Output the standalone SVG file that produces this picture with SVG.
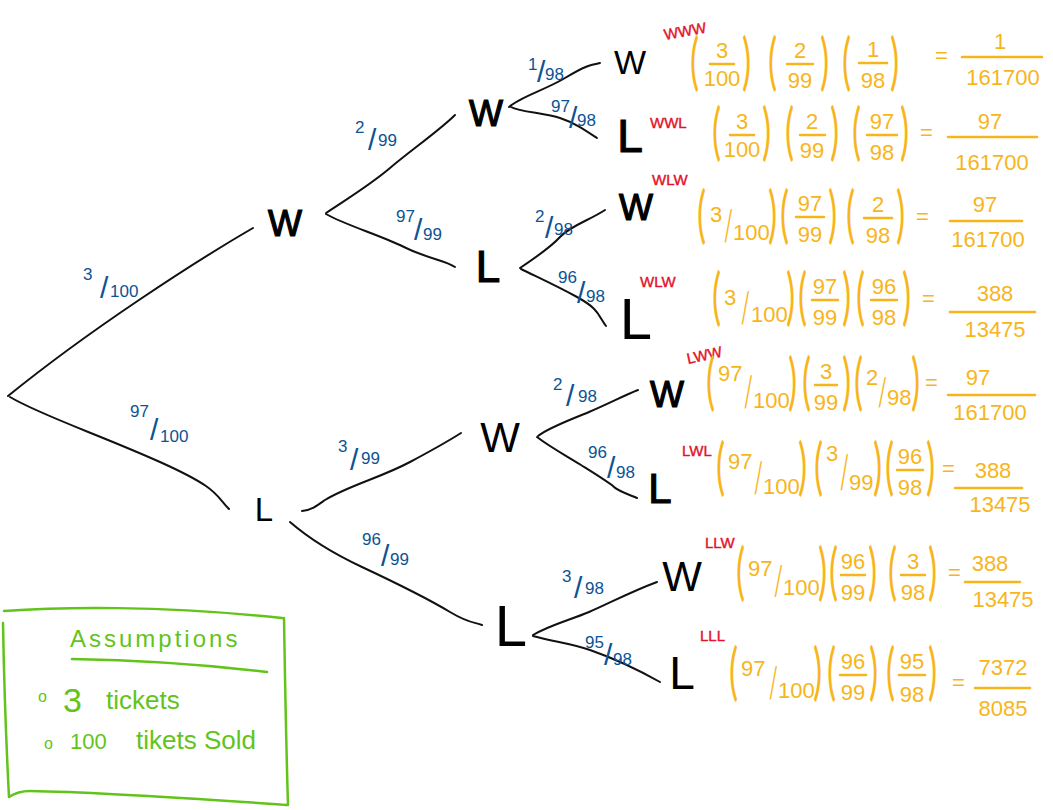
<svg xmlns="http://www.w3.org/2000/svg" width="1053" height="810" viewBox="0 0 1053 810">
<style>
text{font-family:"Liberation Sans",Arial,sans-serif}
.edge{fill:none;stroke:#111;stroke-width:2;stroke-linecap:round;stroke-linejoin:round}
.node{fill:#000;text-anchor:middle}
.bold{stroke:#000;stroke-width:1.2}
.p{fill:#0c5394;font-size:17px}
.ps{fill:#0c5394;font-size:30px}
.tag{fill:#e3122b;font-size:15px;stroke:#e3122b;stroke-width:.4}
.o{fill:#f7b51c;font-size:22px}
.oc{fill:#f7b51c;font-size:22px;text-anchor:middle}
.par{fill:#f7b51c;font-family:Lato,"Liberation Sans",sans-serif;font-size:34px}
.sl{fill:#f7b51c;font-family:Lato,"Liberation Sans",sans-serif;font-size:24px}
.fl{stroke:#f7b51c;stroke-width:2.5;stroke-linecap:round;fill:none}
.g{fill:#62c41a}
.gl{fill:none;stroke:#62c41a;stroke-width:2.5;stroke-linecap:round;stroke-linejoin:round}
</style>

<g id="connectors">
<path class="edge" d="M8,396 C50,362 90,333 139,300 S215,250 253,228"/>
<path class="edge" d="M10,397 C40,415 100,435 160,462 S215,495 229,509"/>
<path class="edge" d="M326,213 C350,197 370,185 390,168 S440,130 455,115"/>
<path class="edge" d="M326,214 C345,225 380,235 404,247 S445,260 455,267"/>
<path class="edge" d="M302,511 C312,510 318,505 325,500 C350,485 380,478 410,462 S450,440 461,433"/>
<path class="edge" d="M290,522 C305,535 330,552 362,567 S430,600 450,612 S475,622 482,625"/>
<path class="edge" d="M509,107 C520,97 545,90 565,78 S590,65 600,63"/>
<path class="edge" d="M511,107 C520,112 545,113 560,118 S585,130 597,138"/>
<path class="edge" d="M520,268 C535,258 550,248 560,237 S590,220 605,210"/>
<path class="edge" d="M521,269 C535,276 555,285 577,297 S598,315 606,326"/>
<path class="edge" d="M538,436 C548,428 570,420 589,412 S625,395 638,390"/>
<path class="edge" d="M537,437 C550,447 565,455 581,465 S610,483 614,487 S630,495 637,498"/>
<path class="edge" d="M533,635 C550,625 570,620 589,612 S630,592 657,582"/>
<path class="edge" d="M533,636 C555,642 570,643 590,650 S635,668 660,682"/>
</g>

<g id="edge-labels">
<text class="p" x="83" y="280" font-size="20">3</text><text class="ps" x="100" y="298">/</text><text class="p" x="110" y="297" font-size="18">100</text>
<text class="p" x="130" y="417" font-size="18">97</text><text class="ps" x="150" y="440" font-size="36">/</text><text class="p" x="160" y="442" font-size="16">100</text>
<text class="p" x="355" y="133">2</text><text class="ps" x="368" y="150">/</text><text class="p" x="378" y="146">99</text>
<text class="p" x="396" y="222" font-size="16">97</text><text class="ps" x="414" y="240">/</text><text class="p" x="423" y="240" font-size="16">99</text>
<text class="p" x="528" y="70" font-size="15">1</text><text class="ps" x="537" y="82" font-size="26">/</text><text class="p" x="545" y="80" font-size="15">98</text>
<text class="p" x="551" y="112" font-size="16">97</text><text class="ps" x="569" y="128" font-size="26">/</text><text class="p" x="577" y="126" font-size="16">98</text>
<text class="p" x="535" y="222">2</text><text class="ps" x="545" y="238">/</text><text class="p" x="554" y="235">98</text>
<text class="p" x="558" y="283">96</text><text class="ps" x="577" y="303">/</text><text class="p" x="586" y="302">98</text>
<text class="p" x="338" y="452">3</text><text class="ps" x="350" y="470">/</text><text class="p" x="361" y="464">99</text>
<text class="p" x="362" y="545">96</text><text class="ps" x="381" y="566">/</text><text class="p" x="390" y="565">99</text>
<text class="p" x="553" y="390">2</text><text class="ps" x="566" y="406">/</text><text class="p" x="578" y="402">98</text>
<text class="p" x="588" y="458">96</text><text class="ps" x="607" y="478">/</text><text class="p" x="616" y="478">98</text>
<text class="p" x="562" y="582">3</text><text class="ps" x="574" y="598">/</text><text class="p" x="585" y="594">98</text>
<text class="p" x="585" y="648">95</text><text class="ps" x="604" y="665">/</text><text class="p" x="613" y="665">98</text>
</g>

<g id="node-W1"><text class="node bold" x="285" y="236" font-size="36">W</text></g>
<g id="node-L1"><text class="node" x="264" y="521" font-size="33">L</text></g>
<g id="node-WW"><text class="node bold" x="486" y="126" font-size="36">W</text></g>
<g id="node-WL"><text class="node bold" x="488" y="282" font-size="44">L</text></g>
<g id="node-LW"><text class="node" x="500" y="452" font-size="42">W</text></g>
<g id="node-LL"><text class="node" x="511" y="646" font-size="58">L</text></g>
<g id="node-WWW"><text class="node" x="630" y="74" font-size="34">W</text></g>
<g id="node-WWL"><text class="node bold" x="630" y="152" font-size="46">L</text></g>
<g id="node-WLW"><text class="node bold" x="636" y="220" font-size="36">W</text></g>
<g id="node-WLL"><text class="node" x="636" y="339" font-size="58">L</text></g>
<g id="node-LWW"><text class="node bold" x="667" y="407" font-size="36">W</text></g>
<g id="node-LWL"><text class="node bold" x="660" y="503" font-size="42">L</text></g>
<g id="node-LLW"><text class="node" x="682" y="591" font-size="42">W</text></g>
<g id="node-LLL"><text class="node" x="682" y="689" font-size="46">L</text></g>

<g id="outcome-tags">
<text class="tag" x="665" y="40" transform="rotate(-10 665 40)">WWW</text>
<text class="tag" x="650" y="128">WWL</text>
<text class="tag" x="652" y="185">WLW</text>
<text class="tag" x="640" y="287" font-size="16">WLW</text>
<text class="tag" x="688" y="364" transform="rotate(-12 688 364)">LWW</text>
<text class="tag" x="682" y="456">LWL</text>
<text class="tag" x="705" y="548">LLW</text>
<text class="tag" x="700" y="641">LLL</text>
</g>

<g id="calc-WWW">
<text class="par" transform="translate(690 83) scale(1 1.8)">(</text><text class="oc" x="722" y="58" font-size="24">3</text><line class="fl" x1="710" y1="64" x2="734" y2="64"/><text class="oc" x="722" y="86" font-size="20">100</text><text class="par" transform="translate(742 83) scale(1 1.8)">)</text>
<text class="par" transform="translate(768 83) scale(1 1.8)">(</text><text class="oc" x="800" y="58" font-size="24">2</text><line class="fl" x1="787" y1="64" x2="813" y2="64"/><text class="oc" x="800" y="88">99</text><text class="par" transform="translate(820 83) scale(1 1.8)">)</text>
<text class="par" transform="translate(842 83) scale(1 1.8)">(</text><text class="oc" x="873" y="57" font-size="24">1</text><line class="fl" x1="859" y1="63" x2="887" y2="63"/><text class="oc" x="873" y="88">98</text><text class="par" transform="translate(890 83) scale(1 1.8)">)</text>
<text class="o" x="935" y="63" font-size="26">=</text>
<text class="oc" x="1000" y="49" font-size="24">1</text><line class="fl" x1="962" y1="57" x2="1042" y2="57"/><text class="oc" x="1003" y="85">161700</text>
</g>

<g id="calc-WWL">
<text class="par" transform="translate(712 153) scale(1 1.8)">(</text><text class="oc" x="742" y="129" font-size="24">3</text><line class="fl" x1="730" y1="135" x2="754" y2="135"/><text class="oc" x="742" y="157" font-size="20">100</text><text class="par" transform="translate(762 153) scale(1 1.8)">)</text>
<text class="par" transform="translate(785 153) scale(1 1.8)">(</text><text class="oc" x="812" y="129" font-size="24">2</text><line class="fl" x1="800" y1="135" x2="825" y2="135"/><text class="oc" x="812" y="158">99</text><text class="par" transform="translate(830 153) scale(1 1.8)">)</text>
<text class="par" transform="translate(852 153) scale(1 1.8)">(</text><text class="oc" x="882" y="129" font-size="24">97</text><line class="fl" x1="867" y1="135" x2="897" y2="135"/><text class="oc" x="882" y="160" font-size="24">98</text><text class="par" transform="translate(900 153) scale(1 1.8)">)</text>
<text class="o" x="920" y="140">=</text>
<text class="oc" x="990" y="129" font-size="24">97</text><line class="fl" x1="948" y1="137" x2="1037" y2="137"/><text class="oc" x="992" y="170">161700</text>
</g>

<g id="calc-WLW">
<text class="par" transform="translate(697 236) scale(1 1.8)">(</text><text class="o" x="710" y="222" font-size="24">3</text><text class="sl" transform="translate(724 240) scale(0.8 1.8)">/</text><text class="o" x="733" y="240" font-size="20">100</text><text class="par" transform="translate(768 236) scale(1 1.8)">)</text>
<text class="par" transform="translate(780 236) scale(1 1.8)">(</text><text class="oc" x="810" y="211" font-size="24">97</text><line class="fl" x1="796" y1="217" x2="824" y2="217"/><text class="oc" x="810" y="242">99</text><text class="par" transform="translate(828 236) scale(1 1.8)">)</text>
<text class="par" transform="translate(846 236) scale(1 1.8)">(</text><text class="oc" x="878" y="212" font-size="24">2</text><line class="fl" x1="864" y1="218" x2="892" y2="218"/><text class="oc" x="878" y="243">98</text><text class="par" transform="translate(896 236) scale(1 1.8)">)</text>
<text class="o" x="916" y="224">=</text>
<text class="oc" x="985" y="212" font-size="24">97</text><line class="fl" x1="950" y1="221" x2="1022" y2="221"/><text class="oc" x="988" y="247">161700</text>
</g>

<g id="calc-WLL">
<text class="par" transform="translate(712 318) scale(1 1.8)">(</text><text class="o" x="724" y="305" font-size="28">3</text><text class="sl" transform="translate(741 322) scale(0.8 1.8)">/</text><text class="o" x="751" y="322" font-size="20">100</text><text class="par" transform="translate(786 318) scale(1 1.8)">)</text>
<text class="par" transform="translate(798 318) scale(1 1.8)">(</text><text class="oc" x="825" y="294" font-size="24">97</text><line class="fl" x1="812" y1="300" x2="838" y2="300"/><text class="oc" x="825" y="325">99</text><text class="par" transform="translate(842 318) scale(1 1.8)">)</text>
<text class="par" transform="translate(856 318) scale(1 1.8)">(</text><text class="oc" x="884" y="294" font-size="24">96</text><line class="fl" x1="871" y1="300" x2="897" y2="300"/><text class="oc" x="884" y="325">98</text><text class="par" transform="translate(902 318) scale(1 1.8)">)</text>
<text class="o" x="922" y="306">=</text>
<text class="oc" x="995" y="301" font-size="28">388</text><line class="fl" x1="950" y1="312" x2="1035" y2="312"/><text class="oc" x="995" y="337" font-size="24">13475</text>
</g>

<g id="calc-LWW">
<text class="par" transform="translate(706 403) scale(1 1.8)">(</text><text class="o" x="718" y="381">97</text><text class="sl" transform="translate(744 406) scale(0.8 1.8)">/</text><text class="o" x="753" y="408" font-size="20">100</text><text class="par" transform="translate(788 403) scale(1 1.8)">)</text>
<text class="par" transform="translate(802 403) scale(1 1.8)">(</text><text class="oc" x="826" y="379" font-size="24">3</text><line class="fl" x1="815" y1="385" x2="837" y2="385"/><text class="oc" x="826" y="410">99</text><text class="par" transform="translate(842 403) scale(1 1.8)">)</text>
<text class="par" transform="translate(854 403) scale(1 1.8)">(</text><text class="o" x="866" y="385" font-size="20">2</text><text class="sl" transform="translate(878 405) scale(0.8 1.6)">/</text><text class="o" x="887" y="405" font-size="20">98</text><text class="par" transform="translate(911 403) scale(1 1.8)">)</text>
<text class="o" x="925" y="390">=</text>
<text class="oc" x="978" y="385" font-size="24">97</text><line class="fl" x1="948" y1="395" x2="1035" y2="395"/><text class="oc" x="990" y="420">161700</text>
</g>

<g id="calc-LWL">
<text class="par" transform="translate(716 488) scale(1 1.8)">(</text><text class="o" x="728" y="469">97</text><text class="sl" transform="translate(754 492) scale(0.8 1.8)">/</text><text class="o" x="763" y="494" font-size="20">100</text><text class="par" transform="translate(798 488) scale(1 1.8)">)</text>
<text class="par" transform="translate(814 488) scale(1 1.8)">(</text><text class="o" x="826" y="461" font-size="22">3</text><text class="sl" transform="translate(840 488) scale(0.8 1.9)">/</text><text class="o" x="849" y="490" font-size="20">99</text><text class="par" transform="translate(873 488) scale(1 1.8)">)</text>
<text class="par" transform="translate(885 488) scale(1 1.8)">(</text><text class="oc" x="910" y="464" font-size="24">96</text><line class="fl" x1="897" y1="470" x2="923" y2="470"/><text class="oc" x="910" y="495">98</text><text class="par" transform="translate(926 488) scale(1 1.8)">)</text>
<text class="o" x="942" y="476">=</text>
<text class="oc" x="993" y="478" font-size="28">388</text><line class="fl" x1="955" y1="488" x2="1022" y2="488"/><text class="oc" x="1000" y="512" font-size="20">13475</text>
</g>

<g id="calc-LLW">
<text class="par" transform="translate(736 593) scale(1 1.8)">(</text><text class="o" x="748" y="576">97</text><text class="sl" transform="translate(774 595) scale(0.8 1.7)">/</text><text class="o" x="783" y="595" font-size="18">100</text><text class="par" transform="translate(818 593) scale(1 1.8)">)</text>
<text class="par" transform="translate(829 593) scale(1 1.8)">(</text><text class="oc" x="853" y="569" font-size="24">96</text><line class="fl" x1="841" y1="575" x2="865" y2="575"/><text class="oc" x="853" y="600">99</text><text class="par" transform="translate(868 593) scale(1 1.8)">)</text>
<text class="par" transform="translate(888 593) scale(1 1.8)">(</text><text class="oc" x="913" y="569" font-size="24">3</text><line class="fl" x1="901" y1="575" x2="925" y2="575"/><text class="oc" x="913" y="600">98</text><text class="par" transform="translate(928 593) scale(1 1.8)">)</text>
<text class="o" x="948" y="580">=</text>
<text class="oc" x="990" y="571" font-size="26">388</text><line class="fl" x1="965" y1="582" x2="1020" y2="582"/><text class="oc" x="1003" y="607" font-size="24">13475</text>
</g>

<g id="calc-LLL">
<text class="par" transform="translate(729 693) scale(1 1.8)">(</text><text class="o" x="741" y="676" font-size="24">97</text><text class="sl" transform="translate(769 697) scale(0.8 1.8)">/</text><text class="o" x="778" y="698" font-size="20">100</text><text class="par" transform="translate(813 693) scale(1 1.8)">)</text>
<text class="par" transform="translate(827 693) scale(1 1.8)">(</text><text class="oc" x="853" y="669" font-size="24">96</text><line class="fl" x1="840" y1="675" x2="866" y2="675"/><text class="oc" x="853" y="700">99</text><text class="par" transform="translate(869 693) scale(1 1.8)">)</text>
<text class="par" transform="translate(886 693) scale(1 1.8)">(</text><text class="oc" x="912" y="669" font-size="24">95</text><line class="fl" x1="899" y1="675" x2="925" y2="675"/><text class="oc" x="912" y="702">98</text><text class="par" transform="translate(928 693) scale(1 1.8)">)</text>
<text class="o" x="952" y="690">=</text>
<text class="oc" x="1003" y="675" font-size="24">7372</text><line class="fl" x1="975" y1="688" x2="1030" y2="688"/><text class="oc" x="1003" y="716" font-size="24">8085</text>
</g>

<g id="assumptions">
<path class="gl" d="M4,611 C60,607 160,605 282,618 M284,618 C285,680 286,740 288,805 M288,805 C200,799 100,792 30,791 C18,791 12,795 9,797 M3,623 C4,680 6,740 9,797"/>
<text class="g" x="70" y="647" font-size="24" letter-spacing="3">Assumptions</text>
<path class="gl" d="M72,659 C140,660 200,664 267,672"/>
<text class="g" x="38" y="702" font-size="16">o</text>
<text class="g" x="63" y="712" font-size="34">3</text>
<text class="g" x="106" y="709" font-size="26">tickets</text>
<text class="g" x="44" y="749" font-size="16">o</text>
<text class="g" x="70" y="749" font-size="22">100</text>
<text class="g" x="136" y="749" font-size="26">tikets Sold</text>
</g>
</svg>
